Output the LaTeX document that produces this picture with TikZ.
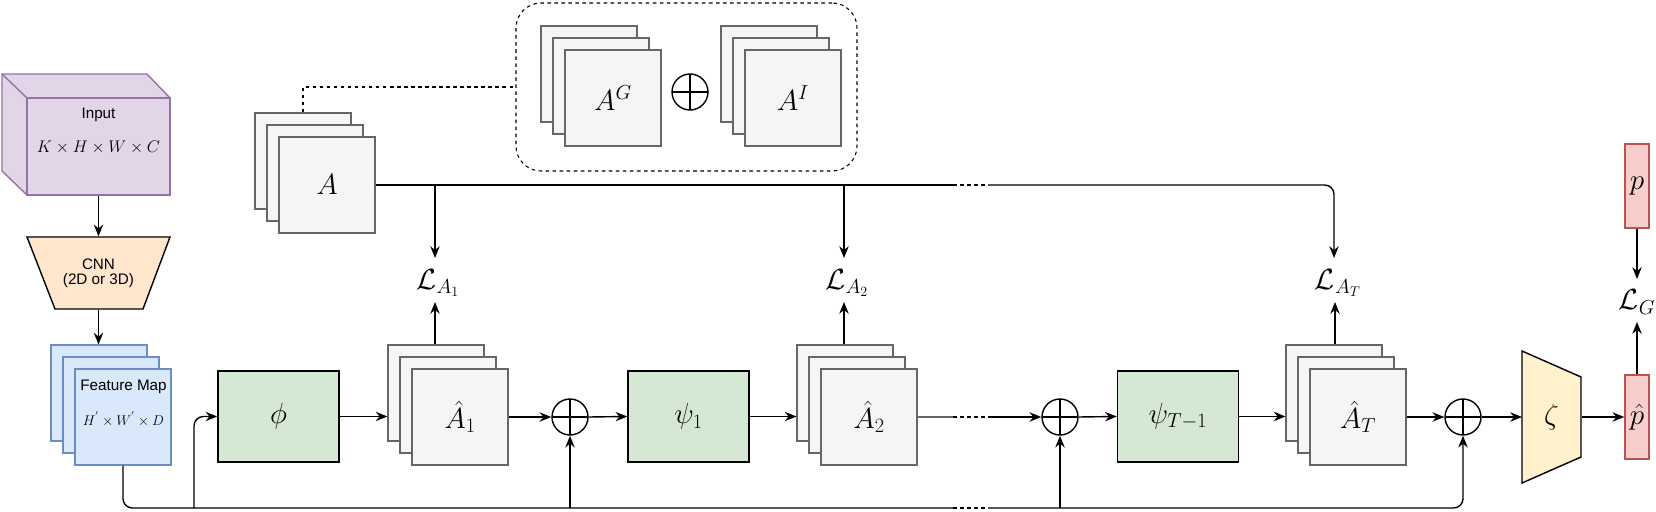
\documentclass[tikz,border=0pt]{standalone}
\usepackage{amsmath,amssymb}
\usepackage{fontspec}
\setsansfont{Liberation Sans}
\usetikzlibrary{arrows.meta}
\definecolor{gfill}{HTML}{F5F5F5}
\definecolor{gline}{HTML}{666666}
\definecolor{grfill}{HTML}{D5E8D4}
\definecolor{pufill}{HTML}{E1D5E7}
\definecolor{puline}{HTML}{9673A6}
\definecolor{orfill}{HTML}{FFE6CC}
\definecolor{blfill}{HTML}{DAE8FC}
\definecolor{blline}{HTML}{6C8EBF}
\definecolor{yefill}{HTML}{FFF2CC}
\definecolor{refill}{HTML}{F8CECC}
\definecolor{reline}{HTML}{B85450}
\newcommand\fs[1]{\fontsize{#1}{#1}\selectfont}
% stack of three sheets: name, x, y (top-left of front sheet, px), label, style
\newcommand\pstack[5]{%
  \node[sheet,#5] (#1b) at (#2+48-24,#3+48-24) {};
  \node[sheet,#5] (#1m) at (#2+48-12,#3+48-12) {};
  \node[sheet,#5] (#1) at (#2+48,#3+48) {#4};}
\begin{document}
\begin{tikzpicture}[x=0.03cm,y=-0.03cm,line width=1.2pt,
  >={Stealth[length=10pt,width=8pt]},
  sheet/.style={draw=gline,fill=gfill,line width=0.9pt,minimum size=2.88cm,inner sep=0,font=\fs{27}},
  fmap/.style={draw=blline,fill=blfill,font=\fs{12}\sffamily},
  blk/.style={draw=black,fill=grfill,minimum width=3.63cm,minimum height=2.73cm,inner sep=0,font=\fs{26}},
  lbl/.style={inner sep=1pt,font=\fs{25}},
  oplus/.style={circle,draw,minimum size=1.08cm,inner sep=0,
    path picture={\draw (path picture bounding box.north) -- (path picture bounding box.south)
      (path picture bounding box.west) -- (path picture bounding box.east);}},
  pbox/.style={draw=reline,fill=refill,minimum width=0.72cm,minimum height=2.52cm,inner sep=0,font=\fs{25}}]
\useasboundingbox (0,0) rectangle (1656,512);

% input cube
\draw[puline,fill=pufill] (2,74) -- (147,74) -- (170,98) -- (170,195) -- (27,195) -- (2,171) -- cycle;
\draw[puline] (2,74) -- (27,98);
\node[draw=puline,fill=pufill,minimum width=4.29cm,minimum height=2.91cm,inner sep=0] (in) at (98.5,146.5) {};
\node[font=\fs{13}\sffamily] at (98.5,115) {Input};
\node[font=\fs{13.5}] at (98.5,147) {$K\times H\times W\times C$};

% CNN
\draw[fill=orfill] (27,237) -- (170,237) -- (143,309) -- (55,309) -- cycle;
\node[minimum height=2.16cm,align=center,inner sep=0,font=\fs{13}\sffamily] (cnn) at (98.5,273) {CNN\\(2D or 3D)};

% feature map
\pstack{fm}{75}{369}{}{fmap}
\node[font=\fs{13}\sffamily] at (123.5,387) {Feature Map};
\node[font=\fs{12.5}] at (123.5,419) {$H^{'}\times W^{'}\times D$};

% attention stacks
\pstack{A}{279}{137}{$A$}{}
\pstack{AG}{565}{50}{$A^G$}{}
\node[oplus] (og) at (690,92) {};
\pstack{AI}{745}{50}{$A^I$}{}
\node[draw,dashed,rounded corners=0.75cm,minimum width=10.23cm,minimum height=5.04cm,line width=0.9pt] (grp) at (686.5,87) {};
\draw[dashed,line width=0.9pt] (Ab.north) |- (grp.west);

% main row
\node[blk] (phi) at (278.5,416.5) {$\phi$};
\pstack{h1}{412}{369}{$\hat{A}_1$}{}
\node[oplus] (o1) at (570,417) {};
\node[blk] (psi1) at (688.5,416.5) {$\psi_1$};
\pstack{h2}{821}{369}{$\hat{A}_2$}{}
\node[oplus] (o2) at (1060,417) {};
\node[blk] (psiT) at (1178,416.5) {$\psi_{T-1}$};
\pstack{hT}{1310}{369}{$\hat{A}_T$}{}
\node[oplus] (o3) at (1463,417) {};
\draw[fill=yefill] (1522,351) -- (1581,377) -- (1581,457) -- (1522,483) -- cycle;
\node[minimum width=1.77cm,minimum height=0.5cm,inner sep=0,font=\fs{26}] (zeta) at (1551.5,417) {$\zeta$};
\node[pbox] (ph) at (1637,417) {$\hat{p}$};
\node[pbox] (p) at (1637,186) {$p$};
\node[lbl] (LG) at (1637,302) {$\mathcal{L}_G$};

% losses
\node[lbl] (L1) at (438,283) {$\mathcal{L}_{A_1}$};
\node[lbl] (L2) at (847,283) {$\mathcal{L}_{A_2}$};
\node[lbl] (LT) at (1338,283) {$\mathcal{L}_{A_T}$};

% left column arrows
\draw[->] (in.south) -- (cnn.north);
\draw[->] (cnn.south) -- (cnn.south |- fmb.north);

% top line from A
\coordinate (t1) at (953,185);
\coordinate (t2) at (988,185);
\draw (A.east) -- (t1);
\draw[dashed] (t1) -- (t2);
\draw[->,rounded corners=8pt] (t2) -| (1334,258);
\draw[->] (435,185) -- (435,258);
\draw[->] (844,185) -- (844,258);

% up arrows
\draw[->] (h1b.north -| 435,0) -- (435,302);
\draw[->] (h2b.north -| 844,0) -- (844,302);
\draw[->] (hTb.north -| 1335,0) -- (1335,302);
\draw[->] (p.south) -- (1637,279);
\draw[->] (ph.north) -- (1637,322);

% main flow
\draw[->] (phi.east) -- (phi.east -| h1b.west);
\draw[->] (h1.east) -- (o1.west);
\draw[->] (o1.east) -- (psi1.west);
\draw[->] (psi1.east) -- (psi1.east -| h2b.west);
\coordinate (m1) at (953,417);
\coordinate (m2) at (988,417);
\draw[gline] (h2.east) -- (m1);
\draw[dashed] (m1) -- (m2);
\draw[->] (m2) -- (o2.west);
\draw[->] (o2.east) -- (psiT.west);
\draw[->] (psiT.east) -- (psiT.east -| hTb.west);
\draw[->] (hT.east) -- (o3.west);
\draw[->] (o3.east) -- (1522,417);
\draw[->] (zeta.east) -- (ph.west);

% bottom skip line
\coordinate (b1) at (953,508);
\coordinate (b2) at (988,508);
\draw[rounded corners=8pt] (fm.south) |- (b1);
\draw[dashed] (b1) -- (b2);
\draw[->,rounded corners=8pt] (b2) -| (o3.south);
\draw[->,rounded corners=8pt] (194,508) |- (phi.west);
\draw[->] (o1.south |- b1) -- (o1.south);
\draw[->] (o2.south |- b1) -- (o2.south);
\end{tikzpicture}
\end{document}
